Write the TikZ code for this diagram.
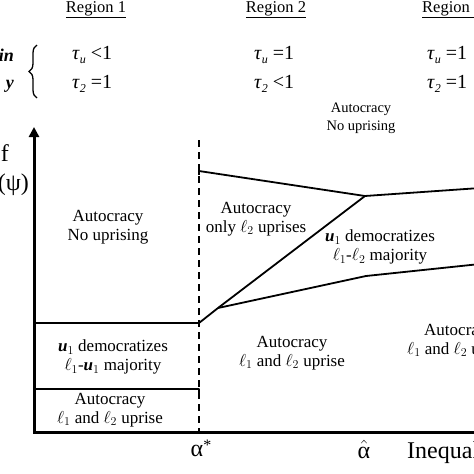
\documentclass[tikz,border=0pt]{standalone}
\usepackage{fontspec}
\setmainfont{Liberation Serif}
\usetikzlibrary{arrows.meta,decorations.pathreplacing}
\newcommand{\myu}{\textbf{\textit{u}}$_1$}
\newcommand{\mytau}[1]{\textit{τ}\raisebox{-3.5pt}{\fontsize{12}{12}\selectfont\textit{#1}}}
\begin{document}
\begin{tikzpicture}[x=1pt,y=-1pt,
  lbl/.style={font=\fontsize{17}{19}\selectfont, align=center, inner sep=0pt},
  smlbl/.style={font=\fontsize{14.5}{18}\selectfont, align=center, inner sep=0pt},
  reglbl/.style={font=\fontsize{16.5}{20}\selectfont, inner sep=0pt, anchor=base},
  taulbl/.style={font=\fontsize{20}{22}\selectfont, inner sep=0pt, anchor=west},
  axislbl/.style={font=\fontsize{24}{26}\selectfont, inner sep=0pt},
  bnd/.style={line width=1.8pt, line join=round},
  axisline/.style={line width=3pt, line join=miter},
  dashline/.style={line width=1.8pt, dash pattern=on 7pt off 5pt}]
\useasboundingbox (0,0) rectangle (474,474);
\clip (0,0) rectangle (474,474);

% coordinates
\coordinate (O) at (34,432);
\coordinate (ytop) at (34,127);
\coordinate (xend) at (480,432);
\coordinate (dtop) at (199,140);
\coordinate (dbot) at (199,432);
\coordinate (a1) at (34,323);
\coordinate (a2) at (199,323);
\coordinate (split) at (218,308);
\coordinate (junc) at (365,196);
\coordinate (low1) at (366,276);
\coordinate (low2) at (480,264);
\coordinate (up0) at (199,171);
\coordinate (up2) at (480,188);
\coordinate (b1) at (34,389);
\coordinate (b2) at (199,389);
\coordinate (b3) at (199,396);
\coordinate (brb) at (37,98);
\coordinate (brt) at (37,45);

% axes
\draw[axisline, {Triangle[length=10pt,width=10pt]}-] (ytop) -- (O) -- (xend);
\draw[dashline] (dtop) -- (dbot);

% boundaries
\draw[bnd] (a1) -- (a2) -- (split) -- (junc);
\draw[bnd] (split) -- (low1) -- (low2);
\draw[bnd] (up0) -- (junc) -- (up2);
\draw[bnd] (b1) -- (b2) -- (b3);
\draw[bnd] (199,175) -- (up0);

% header
\node[reglbl] (r1) at (96,12) {\underline{Region 1}};
\node[reglbl] (r2) at (276,12) {\underline{Region 2}};
\node[reglbl, anchor=base west] (r3) at (422,12) {\underline{Region 3}};

\node[font=\fontsize{18}{20}\selectfont\bfseries\itshape, anchor=base east, inner sep=0pt] (hin) at (14,61) {in};
\node[font=\fontsize{18}{20}\selectfont\bfseries\itshape, anchor=base east, inner sep=0pt] (hy) at (14,88) {y};
\draw[line width=1.3pt, decorate, decoration={brace, amplitude=8pt}] (brb) -- (brt);

\node[taulbl] (t11) at (72,55) {\mytau{u} <1};
\node[taulbl] (t12) at (72,84) {\mytau{2} =1};
\node[taulbl] (t21) at (254,55) {\mytau{u} =1};
\node[taulbl] (t22) at (254,84) {\mytau{2} <1};
\node[taulbl] (t31) at (427,55) {\mytau{u} =1};
\node[taulbl] (t32) at (427,84) {\mytau{2} =1};

% axis labels
\node[axislbl, anchor=east] (yl1) at (9,153) {f};
\node[axislbl, anchor=east] (yl2) at (29,185) {(ψ)};
\node[axislbl, anchor=base] (as) at (201,456) {α\raisebox{6pt}{\fontsize{16}{16}\selectfont *}};
\node[axislbl, anchor=base] (ah) at (364,458) {\ensuremath{\hat{\mbox{α}}}};
\node[axislbl, anchor=base west] (ineq) at (407,458) {Inequality};

% region labels
\node[lbl] (n1) at (108,227) {Autocracy\\No uprising};
\node[smlbl] (n2) at (361,118) {Autocracy\\No uprising};
\node[lbl] (n3) at (256,219) {Autocracy\\only $\ell_2$ uprises};
\node[lbl] (n4) at (380,247) {\myu{} democratizes\\$\ell_1$-$\ell_2$ majority};
\node[lbl] (n5) at (113,357) {\myu{} democratizes\\$\ell_1$-\myu{} majority};
\node[lbl] (n6) at (110,410) {Autocracy\\$\ell_1$ and $\ell_2$ uprise};
\node[lbl] (n7) at (292,353) {Autocracy\\$\ell_1$ and $\ell_2$ uprise};
\node[lbl, anchor=west, align=left] (n8) at (407,341) {\hspace*{17pt}Autocracy\\$\ell_1$ and $\ell_2$ uprise};
\end{tikzpicture}
\end{document}
